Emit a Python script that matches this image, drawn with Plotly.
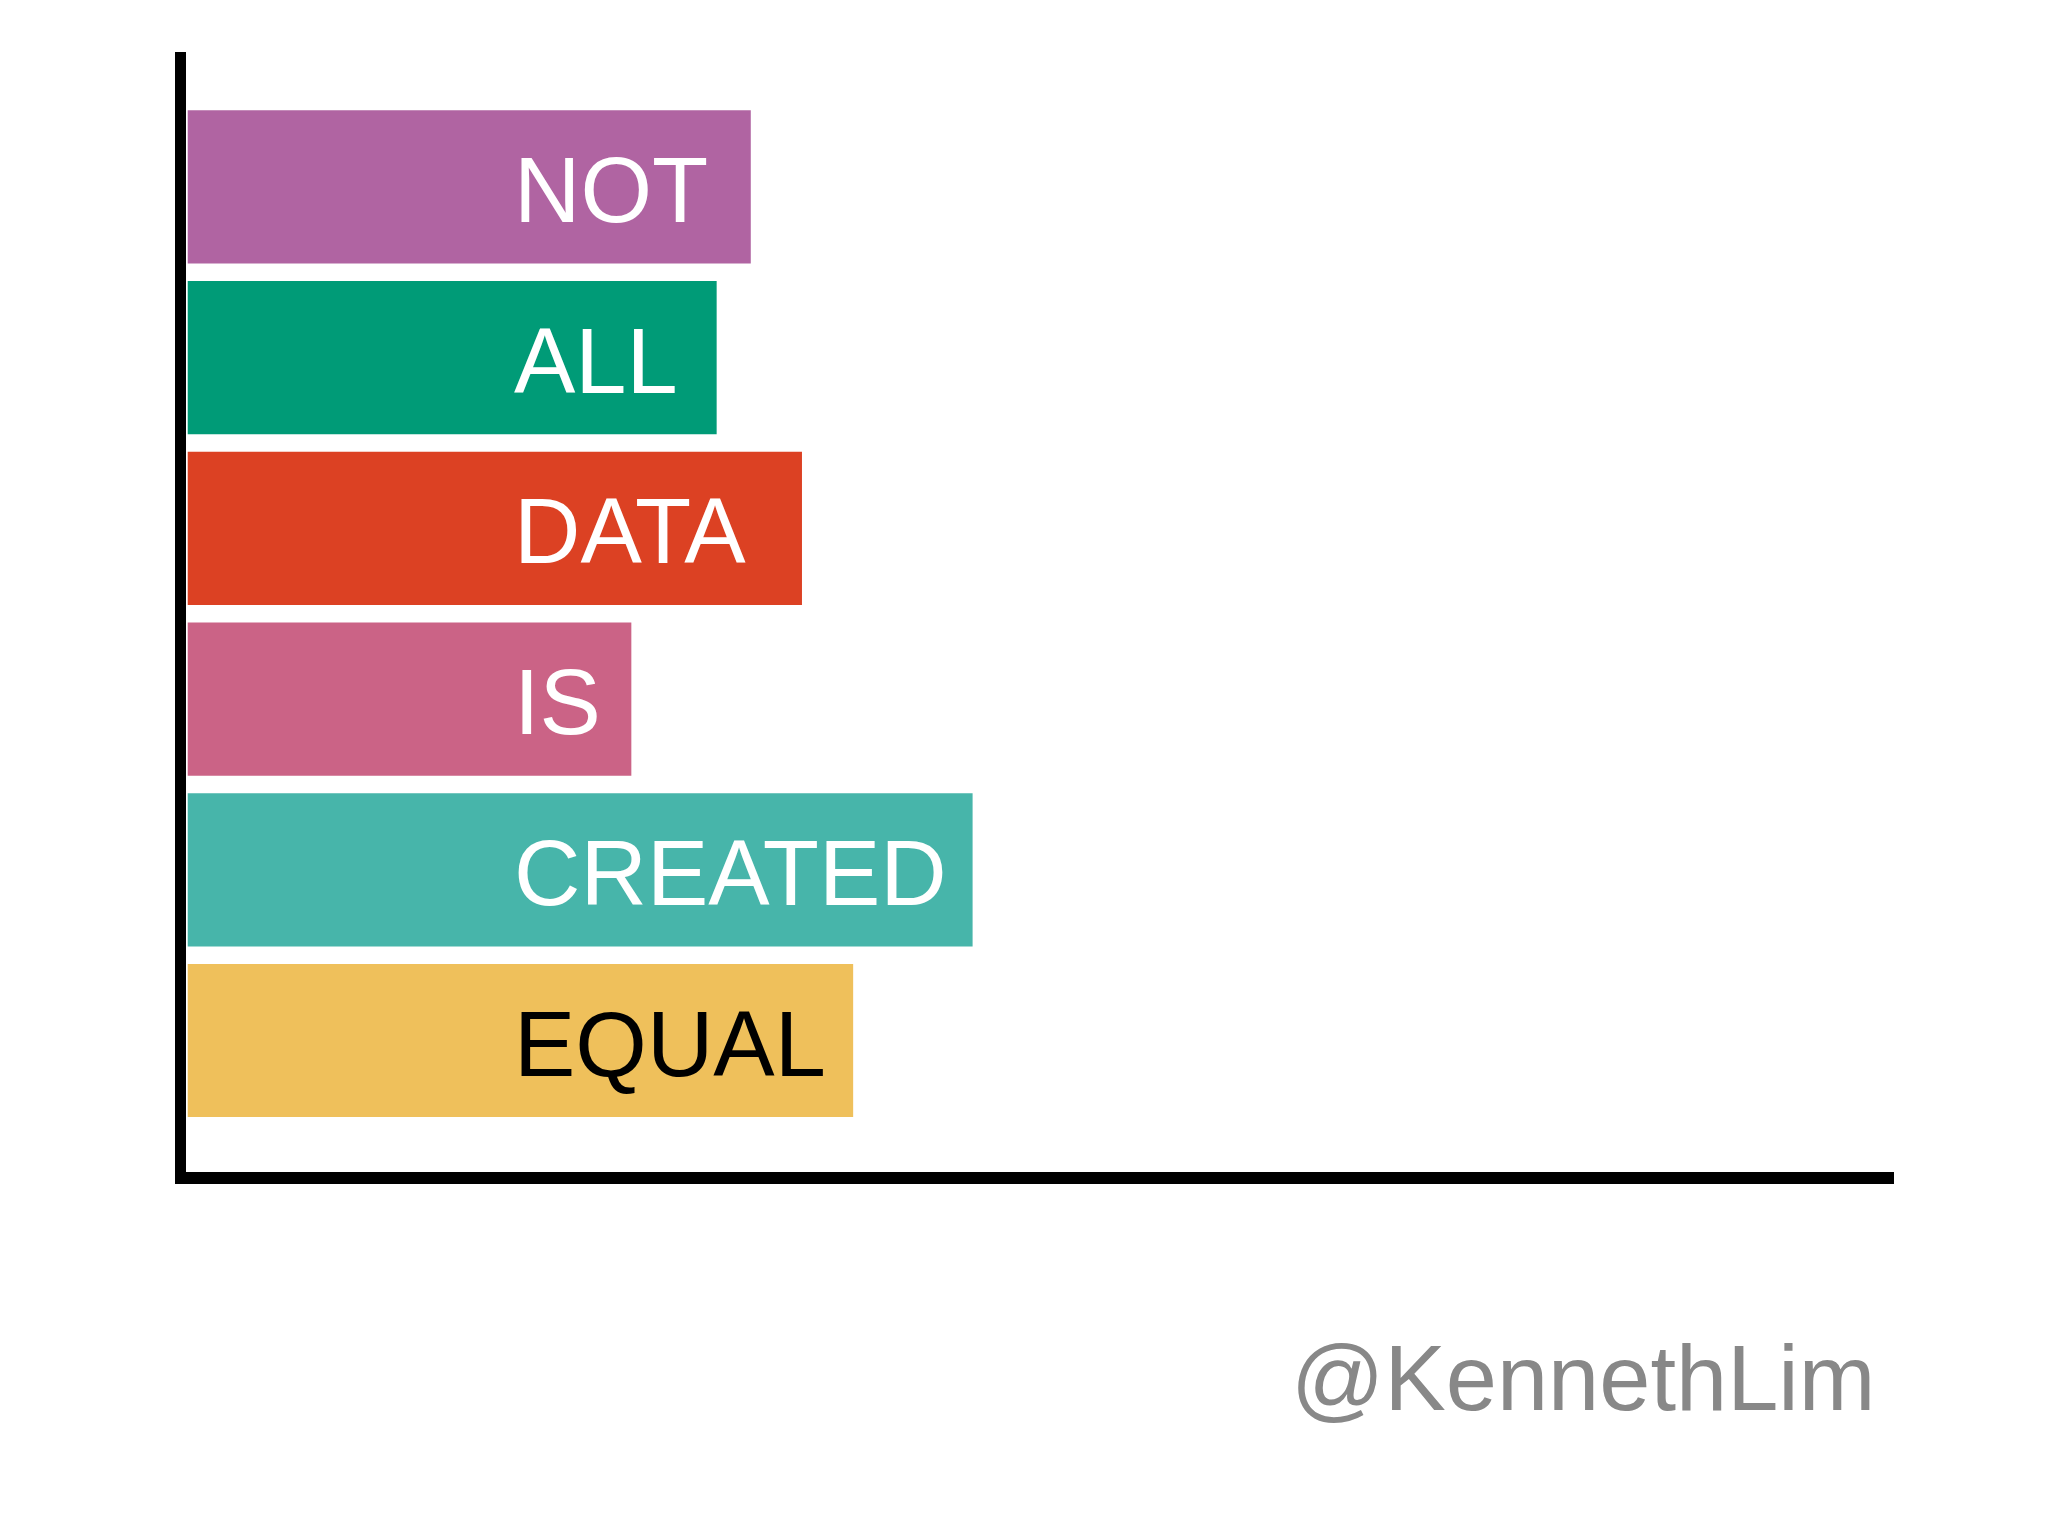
import plotly.graph_objects as go

# words of the message, top to bottom
words = ['NOT', 'ALL', 'DATA', 'IS', 'CREATED', 'EQUAL']
lengths = [33, 31, 36, 26, 46, 39]
bar_colors = ['#B064A2', '#009B77', '#DC4123', '#CB6386', '#47B5AA', '#EFC05B']
text_colors = ['white', 'white', 'white', 'white', 'white', 'black']
signature = '@KennethLim'

W, H = 2048, 1536
MARGIN = dict(l=178, r=162, t=44, b=372)


def bar_plot():
  fig = go.Figure()
  fig.add_trace(go.Bar(
      x=lengths,
      y=list(range(len(words))),
      orientation='h',
      marker_color=bar_colors,
      marker_line_width=0,
      hoverinfo='skip',
  ))
  # words written inside the bars, all starting at the same x
  for i, w in enumerate(words):
    fig.add_annotation(
      x=19.0, y=i, xref='x', yref='y',
      text=w, showarrow=False,
      xanchor='left', yanchor='middle', yshift=-3,
      font=dict(family='Arial, Liberation Sans', size=92, color=text_colors[i]),
    )
  # signature, placed in pixels -> paper units
  pw = W - MARGIN['l'] - MARGIN['r']
  ph = H - MARGIN['t'] - MARGIN['b']
  fig.add_annotation(
    x=(1869 - MARGIN['l']) / pw, y=(H - MARGIN['b'] - 1423) / ph,
    xref='paper', yref='paper',
    text=signature, showarrow=False,
    xanchor='right', yanchor='bottom',
    font=dict(family='Arial, Liberation Sans', size=92, color='#888888'),
  )
  fig.update_layout(
    width=W,
    height=H,
    margin=dict(MARGIN, autoexpand=False),
    paper_bgcolor='white',
    plot_bgcolor='white',
    showlegend=False,
    bargap=0.103,
    xaxis=dict(range=[-0.1, 100], showgrid=False, zeroline=False, showticklabels=False,
               ticks='', showline=True, linecolor='black', linewidth=12),
    yaxis=dict(range=[5.77, -0.79], showgrid=False, zeroline=False, showticklabels=False,
               ticks='', showline=True, linecolor='black', linewidth=11),
  )
  return fig


def main():
  fig = bar_plot()
  fig.write_html('out.html')


if __name__ == '__main__':
  main()
